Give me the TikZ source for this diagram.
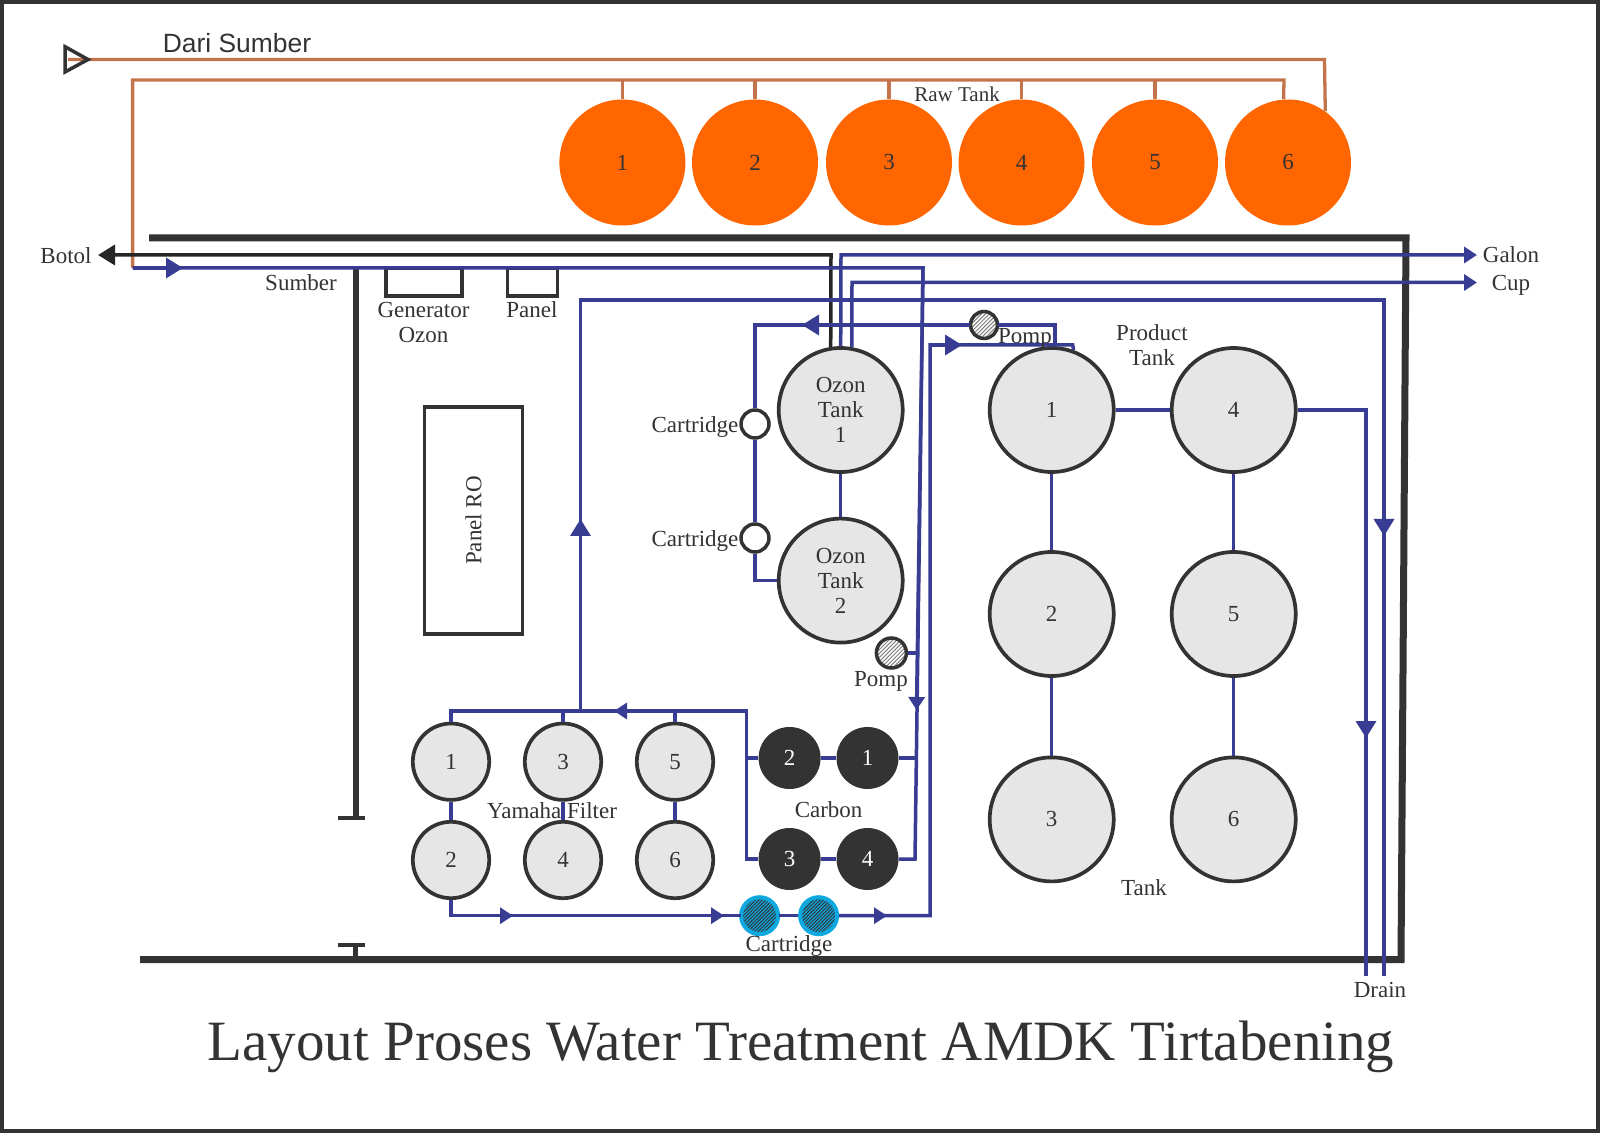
\documentclass[tikz,border=0pt]{standalone}
\usepackage{fontspec}
\setmainfont{Liberation Serif}
\newfontfamily\sumberfont{Liberation Sans}
\usetikzlibrary{arrows.meta,patterns.meta}
\definecolor{pipeblue}{HTML}{383C92}
\definecolor{pipebrown}{HTML}{C4744C}
\definecolor{dark}{HTML}{333333}
\definecolor{tankgrey}{HTML}{E6E6E6}
\definecolor{rawfill}{HTML}{FF6600}
\definecolor{cartcyan}{HTML}{0FA9E0}
\tikzset{fl/.tip = {Triangle[length = 8.5pt, width = 10pt]},
         flsmall/.tip = {Triangle[length = 6.5pt, width = 8pt]}}
\begin{document}
\begin{tikzpicture}[
            x = 0.5pt, y = -0.5pt,
            every node/.style = {text = dark, font = \fontsize{11.5}{12.5}\selectfont, align = center, inner sep = 0pt},
            pipe/.style = {draw = pipeblue, line width = 1.75pt},
            brownpipe/.style = {draw = pipebrown, line width = 1.65pt},
            blackpipe/.style = {draw = black!85, line width = 1.75pt},
            wall/.style = {draw = dark, line width = 3.5pt, line join = miter},
            box/.style = {draw = dark, line width = 1.75pt},
            raw/.style = {circle, fill = rawfill, minimum size = 63pt},
            tank/.style = {circle, draw = dark, line width = 1.85pt, fill = tankgrey, minimum size = 62pt},
            filter/.style = {tank, minimum size = 38.2pt},
            carbon/.style = {circle, fill = dark, text = white, minimum size = 31pt},
            cart/.style = {circle, draw = dark, line width = 1.75pt, fill = white, minimum size = 14pt},
            pomp/.style = {circle, draw = dark, line width = 1.75pt, minimum size = 15pt,
                           preaction = {fill = white},
                           pattern = {Lines[angle = 45, distance = 1.4pt, line width = 0.5pt]}, pattern color = gray},
            cyancart/.style = {circle, draw = cartcyan, line width = 2pt, minimum size = 18.5pt,
                           preaction = {fill = cartcyan},
                           pattern = {Lines[angle = 45, distance = 1.2pt, line width = 0.5pt]}, pattern color = dark}
            ]
            \useasboundingbox (0,0) rectangle (1600,1133);
            \draw[draw = dark, line width = 2pt] (2,2) rectangle (1598,1131);
            % building walls
            \draw[wall] (149,238) -- (1406,238) -- (1401,959.5) -- (140,959.5);
            \draw[wall, line width = 3pt] (355.6,268) -- (355.6,818);
            \draw[box] (338,818) -- (365,818);
            \draw[box] (338,945) -- (365,945);
            \draw[box, line width = 2.25pt] (355.6,945) -- (355.6,959);
            % boxes
            \draw[box] (386,268) rectangle (462,296);
            \draw[box] (507.6,268) rectangle (557.6,296);
            \node[box, draw, minimum width = 49pt, minimum height = 113.5pt] (panelro) at (473.5,520.5) {};
            \node[rotate = 90] (panelrotext) at (473.5,520.5) {Panel RO};
            % raw tanks
            \foreach \i/\x in {1/622.4, 2/755, 3/889, 4/1021.5, 5/1155, 6/1288}
                \node[raw] (rt\i) at (\x,162.5) {\i};
            \coordinate (srcin) at (68,59.5);
            \coordinate (srcturn) at (1324.5,59.5);
            \coordinate (rawleft) at (132.6,80);
            \coordinate (rawright) at (1284,80);
            \coordinate (rawdown) at (132.6,268);
            \draw[brownpipe] (srcin) -- (srcturn) -- (rt6.54);
            \draw[brownpipe] (rawdown) -- (rawleft) -- (rawright) -- (rt6.94);
            \foreach \i in {1,...,5}
                \draw[brownpipe] (rt\i.north) -- (rt\i.north |- rawleft);
            \draw[box] (65,46.7) -- (88,59.5) -- (65,72) -- cycle;
            % ozon tanks
            \node[tank] (oz1) at (840.7,410) {Ozon\\Tank\\1};
            \node[tank] (oz2) at (840.7,580.6) {Ozon\\Tank\\2};
            \node[cart] (cart1) at (755,424) {};
            \node[cart] (cart2) at (755,538) {};
            \node[pomp, minimum size = 13.5pt] (pomp1) at (984,325) {};
            \node[pomp] (pomp2) at (891.4,653) {};
            % product tanks
            \foreach \i/\x/\y in {1/1051.7/410, 2/1051.7/614, 3/1051.7/819.4, 4/1233.7/410, 5/1233.7/614, 6/1233.7/819.4}
                \node[tank] (pt\i) at (\x,\y) {\i};
            % yamaha filters
            \foreach \i/\x/\y in {1/451/761.7, 2/451/860, 3/563/761.7, 4/563/860, 5/675/761.7, 6/675/860}
                \node[filter] (yf\i) at (\x,\y) {\i};
            % carbon filters
            \foreach \i/\x/\y in {1/867.5/758, 2/789.6/758, 3/789.6/859, 4/867.5/859}
                \node[carbon] (cb\i) at (\x,\y) {\i};
            % cartridges
            \node[cyancart] (cy1) at (759.6,915.7) {};
            \node[cyancart] (cy2) at (818.6,915.7) {};
            % free ends and bends
            \coordinate (botol) at (98,255);
            \coordinate (botolturn) at (831,255);
            \coordinate (galon) at (1477,255);
            \coordinate (galonturn) at (841,255);
            \coordinate (cup) at (1477,282.5);
            \coordinate (cupturn) at (852,282.5);
            \coordinate (sumbertip) at (183,268);
            \coordinate (sumberturn) at (923,268);
            \coordinate (pompjoin) at (918,653);
            \coordinate (carbontop) at (915.5,758);
            \coordinate (carbonlow) at (915,859);
            \coordinate (slanttip) at (916.5,710);
            \coordinate (roturn) at (580.5,300);
            \coordinate (roright) at (1384,300);
            \coordinate (rotip) at (580.5,519);
            \coordinate (jointop) at (580.5,711);
            \coordinate (yamtopl) at (451,711);
            \coordinate (yamtopr) at (746.4,711);
            \coordinate (yamtip) at (614,711);
            \coordinate (yamlow) at (746.4,859);
            \coordinate (prodlow) at (930,915.7);
            \coordinate (prodhigh) at (930,345);
            \coordinate (prodtip) at (962,345);
            \coordinate (prodright) at (1072.7,345);
            \coordinate (retturn) at (1055,325);
            \coordinate (retdown) at (1055,345);
            \coordinate (rettip) at (802,325);
            \coordinate (retleft) at (755,325);
            \coordinate (oz2left) at (755,580.6);
            \coordinate (draina) at (1366,976);
            \coordinate (drainatip) at (1366,738);
            \coordinate (drainaturn) at (1366,410);
            \coordinate (drainb) at (1384,976);
            \coordinate (drainbtip) at (1384,536);
            \coordinate (cylow) at (451,915.7);
            \coordinate (cytipa) at (513,915.7);
            \coordinate (cytipb) at (724,915.7);
            \coordinate (cytipc) at (887,915.7);
            % pipes
            \draw[blackpipe, -fl] (oz1.99) -- (botolturn) -- (botol);
            \draw[pipe, -flsmall] (oz1.north) -- (galonturn) -- (galon);
            \draw[pipe, -flsmall] (oz1.80) -- (cupturn) -- (cup);
            \draw[pipe] (rawdown) -- (sumberturn) -- (carbonlow) -- (cb4);
            \draw[pipe, -fl] (rawdown) -- (sumbertip);
            \draw[pipe, -flsmall] (sumberturn) -- (slanttip);
            \draw[pipe] (pomp2) -- (pompjoin);
            \draw[pipe] (cb1) -- (carbontop);
            \draw[pipe] (cb1) -- (cb2);
            \draw[pipe] (cb4) -- (cb3);
            \draw[pipe] (cb2.west) -- (cb2.west -| yamlow);
            \draw[pipe] (cb3) -- (yamlow) -- (yamtopr) -- (yamtopl) -- (yf1);
            \draw[pipe, -flsmall] (yamtopr) -- (yamtip);
            \draw[pipe] (yf3) -- (yf3.north |- yamtopl);
            \draw[pipe] (yf5) -- (yf5.north |- yamtopl);
            \draw[pipe] (yf1) -- (yf2);
            \draw[pipe] (yf3) -- (yf4);
            \draw[pipe] (yf5) -- (yf6);
            \draw[pipe] (jointop) -- (roturn) -- (roright) -- (drainb);
            \draw[pipe, -fl] (jointop) -- (rotip);
            \draw[pipe, -fl] (roright) -- (drainbtip);
            \draw[pipe] (yf2) -- (cylow) -- (cy1);
            \draw[pipe, -flsmall] (cylow) -- (cytipa);
            \draw[pipe, -flsmall] (cytipa) -- (cytipb);
            \draw[pipe] (cy1) -- (cy2);
            \draw[pipe] (cy2) -- (prodlow) -- (prodhigh) -- (prodright) -- (pt1.70);
            \draw[pipe, -flsmall] (cy2) -- (cytipc);
            \draw[pipe, -fl] (prodhigh) -- (prodtip);
            \draw[pipe] (retdown) -- (retturn) -- (pomp1);
            \draw[pipe] (pomp1) -- (retleft) -- (cart1);
            \draw[pipe, -fl] (pomp1) -- (rettip);
            \draw[pipe] (cart1) -- (cart2);
            \draw[pipe] (cart2) -- (oz2left) -- (oz2);
            \draw[pipe] (oz1) -- (oz2);
            \draw[pipe] (pt1) -- (pt2);
            \draw[pipe] (pt2) -- (pt3);
            \draw[pipe] (pt4) -- (pt5);
            \draw[pipe] (pt5) -- (pt6);
            \draw[pipe] (pt1) -- (pt4);
            \draw[pipe] (pt4) -- (drainaturn) -- (draina);
            \draw[pipe, -fl] (drainaturn) -- (drainatip);
            % labels
            \node[font = \sumberfont\fontsize{13.2}{15}\selectfont] (darisumber) at (237,43) {Dari Sumber};
            \node[font = \fontsize{10.5}{12}\selectfont] (rawlabel) at (957,94) {Raw Tank};
            \node (botollabel) at (66,256) {Botol};
            \node (sumberlabel) at (301,283) {Sumber};
            \node (genlabel) at (423.5,322.5) {Generator\\Ozon};
            \node (panellabel) at (532,310) {Panel};
            \node (galonlabel) at (1511,255) {Galon};
            \node (cuplabel) at (1511,285) {Cup};
            \node (cartlabela) at (695,427.5) {Cartridge};
            \node (cartlabelb) at (695,541) {Cartridge};
            \node (pomplabela) at (1025,338) {Pomp};
            \node (pomplabelb) at (881,681) {Pomp};
            \node (prodlabel) at (1152,345.5) {Product\\Tank};
            \node (tanklabel) at (1144,888) {Tank};
            \node (yamlabel) at (552,810.7) {Yamaha Filter};
            \node (carbonlabel) at (828.6,810) {Carbon};
            \node (cartlabelc) at (789,946) {Cartridge};
            \node (drainlabel) at (1380,990) {Drain};
            \node[font = \fontsize{28.5}{32}\selectfont] (title) at (801,1047) {Layout Proses Water Treatment AMDK Tirtabening};
          \end{tikzpicture}
\end{document}
